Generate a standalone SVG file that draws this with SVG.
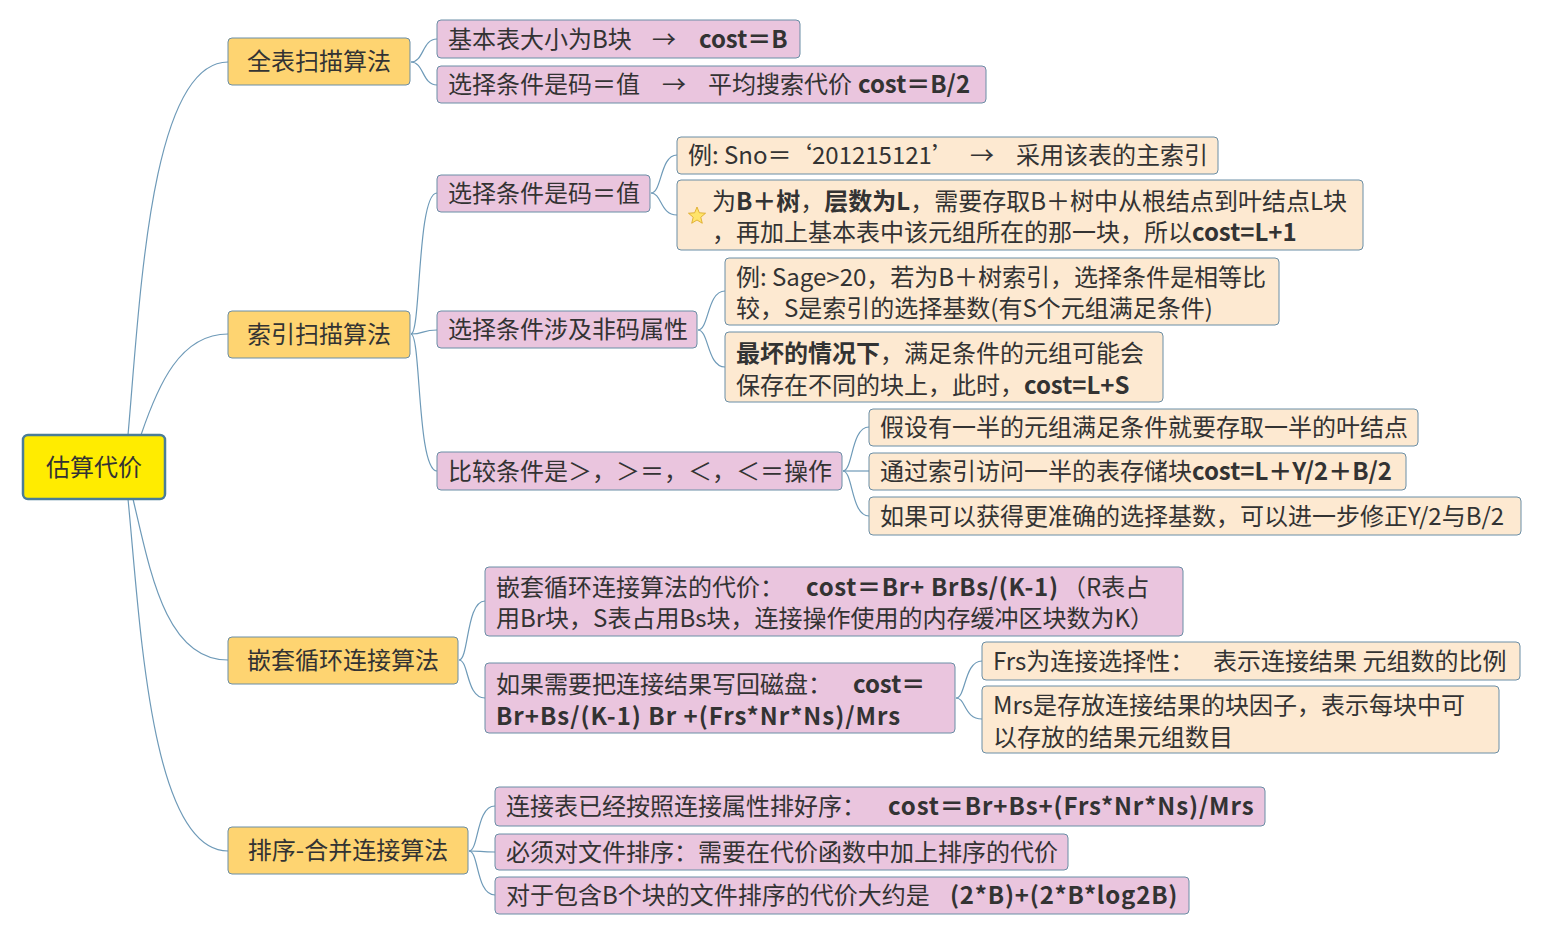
<svg xmlns="http://www.w3.org/2000/svg" width="1542" height="935" viewBox="0 0 1542 935">
<style>
text{font-family:"Noto Sans CJK SC","Noto Sans",sans-serif;font-size:24px;fill:#333}
.b{font-weight:bold}
.c{text-anchor:middle}
.root rect{fill:#FFEC00;stroke:#4A7D98;stroke-width:2.5}
.n1 rect{fill:#FED471;stroke:#6B8EA6;stroke-width:1}
.n2 rect{fill:#EAC5DE;stroke:#6B8EA6;stroke-width:1}
.n3 rect{fill:#FDE9D1;stroke:#6B8EA6;stroke-width:1}
#connectors path{fill:none;stroke:#6E9AB8;stroke-width:1.2}
</style>
<rect width="1542" height="935" fill="#fff"/>
<g id="connectors">
<path d="M128,435 C140,300 150,62 228,62"/>
<path d="M141,435 C158,385 180,334 228,334"/>
<path d="M133,499 C150,570 165,660 228,660"/>
<path d="M128,499 C140,620 150,851 228,851"/>
<path d="M411,62 C424,62 422,39 437,39"/>
<path d="M411,62 C424,62 422,85 437,85"/>
<path d="M411,334 C421,334 417,193 437,193"/>
<path d="M411,334 C424,334 422,330 437,330"/>
<path d="M411,334 C421,334 417,471 437,471"/>
<path d="M459,660 C469,660 466,601 485,601"/>
<path d="M459,660 C469,660 466,698 485,698"/>
<path d="M469,851 C479,851 476,806 495,806"/>
<path d="M469,851 C481,851 480,852 495,852"/>
<path d="M469,851 C479,851 476,895 495,895"/>
<path d="M651,193 C662,193 660,155 677,155"/>
<path d="M651,193 C662,193 660,215 677,215"/>
<path d="M698,330 C709,330 707,291 725,291"/>
<path d="M698,330 C709,330 707,367 725,367"/>
<path d="M843,471 C853,471 851,427 869,427"/>
<path d="M843,471 C855,471 854,471 869,471"/>
<path d="M843,471 C853,471 851,516 869,516"/>
<path d="M956,698 C966,698 964,661 982,661"/>
<path d="M956,698 C966,698 964,719 982,719"/>
</g>
<g id="root" class="root"><rect x="23" y="435" width="142" height="64" rx="5"/><text class="c" x="94" y="475.5">估算代价</text></g>
<g id="n-full" class="n1"><rect x="228" y="38" width="182" height="47" rx="4"/><text class="c" x="319" y="70">全表扫描算法</text></g>
<g id="n-index" class="n1"><rect x="228" y="311" width="182" height="47" rx="4"/><text class="c" x="319" y="343">索引扫描算法</text></g>
<g id="n-nested" class="n1"><rect x="228" y="637" width="230" height="47" rx="4"/><text class="c" x="343" y="669">嵌套循环连接算法</text></g>
<g id="n-sort" class="n1"><rect x="228" y="827" width="240" height="47" rx="4"/><text class="c" x="348" y="859">排序-合并连接算法</text></g>

<g id="n-full-1" class="n2"><rect x="437" y="20" width="363" height="38" rx="4"/><text y="47.5"><tspan x="448">基本表大小为B块</tspan><tspan x="652">→</tspan><tspan x="699" class="b">cost＝B</tspan></text></g>
<g id="n-full-2" class="n2"><rect x="437" y="66" width="549" height="37" rx="4"/><text y="93"><tspan x="448">选择条件是码＝值</tspan><tspan x="662">→</tspan><tspan x="708">平均搜索代价</tspan><tspan x="858" class="b">cost＝B/2</tspan></text></g>

<g id="n-idx-key" class="n2"><rect x="437" y="175" width="213" height="37" rx="4"/><text x="448" y="202">选择条件是码＝值</text></g>
<g id="n-idx-nonkey" class="n2"><rect x="437" y="311" width="260" height="37" rx="4"/><text x="448" y="338">选择条件涉及非码属性</text></g>
<g id="n-idx-cmp" class="n2"><rect x="437" y="452" width="405" height="38" rx="4"/><text x="448" y="479.5">比较条件是＞，＞＝，＜，＜＝操作</text></g>

<g id="n-key-ex" class="n3"><rect x="677" y="137" width="541" height="37" rx="4"/><text y="164"><tspan x="688">例: Sno＝</tspan><tspan x="788">‘201215121’</tspan><tspan x="970">→</tspan><tspan x="1016">采用该表的主索引</tspan></text></g>
<g id="n-key-bt" class="n3"><rect x="677" y="180" width="686" height="70" rx="4"/>
<polygon points="697,207 699.35,212.76 705.56,213.22 700.8,217.24 702.29,223.28 697,220 691.71,223.28 693.2,217.24 688.44,213.22 694.65,212.76" fill="#FFE46A" stroke="#D9A520" stroke-width="0.8"/>
<text><tspan x="712" y="209.5">为</tspan><tspan class="b">B＋树</tspan><tspan>，</tspan><tspan class="b">层数为L</tspan><tspan>，需要存取B＋树中从根结点到叶结点L块</tspan><tspan x="712" y="240.5">，再加上基本表中该元组所在的那一块，所以</tspan><tspan class="b">cost=L+1</tspan></text></g>

<g id="n-nk-ex" class="n3"><rect x="725" y="258" width="554" height="67" rx="4"/><text><tspan x="736" y="285.5">例: Sage&gt;20，若为B＋树索引，选择条件是相等比</tspan><tspan x="736" y="316.5">较，S是索引的选择基数(有S个元组满足条件)</tspan></text></g>
<g id="n-nk-worst" class="n3"><rect x="725" y="332" width="438" height="70" rx="4"/><text><tspan x="736" y="361.5" class="b">最坏的情况下</tspan><tspan>，满足条件的元组可能会</tspan><tspan x="736" y="393.5">保存在不同的块上，此时，</tspan><tspan class="b">cost=L+S</tspan></text></g>

<g id="n-cmp-1" class="n3"><rect x="869" y="409" width="549" height="37" rx="4"/><text x="880" y="436">假设有一半的元组满足条件就要存取一半的叶结点</text></g>
<g id="n-cmp-2" class="n3"><rect x="869" y="453" width="537" height="37" rx="4"/><text y="480"><tspan x="880">通过索引访问一半的表存储块</tspan><tspan class="b">cost=L＋Y/2＋B/2</tspan></text></g>
<g id="n-cmp-3" class="n3"><rect x="869" y="497" width="652" height="38" rx="4"/><text x="880" y="524.5">如果可以获得更准确的选择基数，可以进一步修正Y/2与B/2</text></g>

<g id="n-nl-cost" class="n2"><rect x="485" y="567" width="698" height="69" rx="4"/><text><tspan x="496" y="595.5">嵌套循环连接算法的代价：</tspan><tspan x="806" class="b" letter-spacing="0.7">cost＝Br+ BrBs/(K-1)</tspan><tspan x="1062">（R表占</tspan><tspan x="496" y="626.5">用Br块，S表占用Bs块，连接操作使用的内存缓冲区块数为K）</tspan></text></g>
<g id="n-nl-write" class="n2"><rect x="485" y="663" width="470" height="70" rx="4"/><text><tspan x="496" y="692.5">如果需要把连接结果写回磁盘：</tspan><tspan x="853" class="b">cost＝</tspan><tspan x="496" y="724.5" class="b" letter-spacing="1">Br+Bs/(K-1) Br +(Frs*Nr*Ns)/Mrs</tspan></text></g>
<g id="n-w-frs" class="n3"><rect x="982" y="642" width="538" height="38" rx="4"/><text y="669.5"><tspan x="993">Frs为连接选择性：</tspan><tspan x="1213">表示连接结果 元组数的比例</tspan></text></g>
<g id="n-w-mrs" class="n3"><rect x="982" y="686" width="517" height="67" rx="4"/><text><tspan x="993" y="713.5">Mrs是存放连接结果的块因子，表示每块中可</tspan><tspan x="993" y="745.5">以存放的结果元组数目</tspan></text></g>

<g id="n-sm-1" class="n2"><rect x="495" y="787" width="770" height="39" rx="4"/><text y="815"><tspan x="506">连接表已经按照连接属性排好序：</tspan><tspan x="888" class="b" letter-spacing="0.9">cost＝Br+Bs+(Frs*Nr*Ns)/Mrs</tspan></text></g>
<g id="n-sm-2" class="n2"><rect x="495" y="834" width="573" height="36" rx="4"/><text x="506" y="860.5">必须对文件排序：需要在代价函数中加上排序的代价</text></g>
<g id="n-sm-3" class="n2"><rect x="495" y="877" width="694" height="37" rx="4"/><text y="904"><tspan x="506">对于包含B个块的文件排序的代价大约是</tspan><tspan x="950" class="b" letter-spacing="0.8">(2*B)+(2*B*log2B)</tspan></text></g>
</svg>
